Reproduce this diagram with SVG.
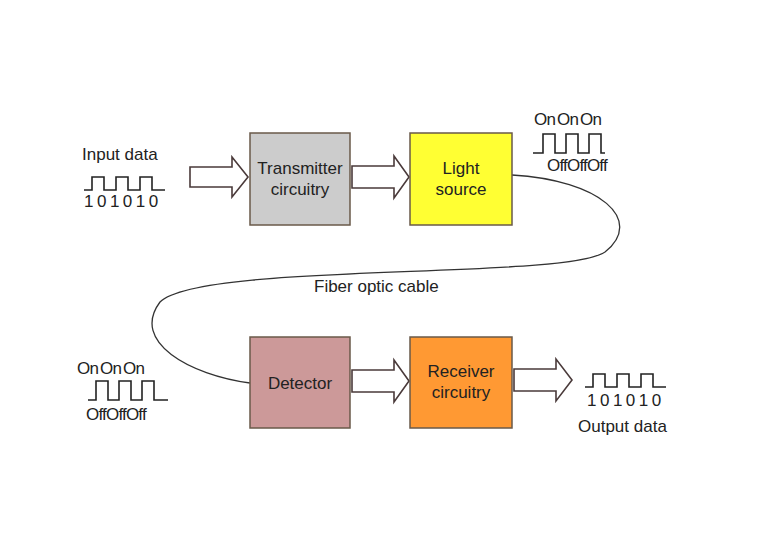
<svg xmlns="http://www.w3.org/2000/svg" width="768" height="543" viewBox="0 0 768 543">
<style>
text{font-family:"Liberation Sans",Arial,sans-serif;font-size:17px;fill:#222}
.box{stroke:#6a5a4a;stroke-width:1.5}
.arr{fill:#fff;stroke:#4a3a3a;stroke-width:1.6}
.w{fill:none;stroke:#222;stroke-width:1.6}
.c{text-anchor:middle}
.s{letter-spacing:-0.8px;word-spacing:-2px}
</style>
<rect width="768" height="543" fill="#fff"/>
<g id="connectors">
<path d="M512,175 C600,180 645,220 605,252 C565,280 200,262 160,302 C130,342 190,375 250,383" fill="none" stroke="#333" stroke-width="1.3"/>
<path class="arr" d="M190,167 H232 V157 L248,177 L232,197 V187 H190 Z"/>
<path class="arr" d="M352,166 H394 V156 L409,177 L394,198 V188 H352 Z"/>
<path class="arr" d="M352,370 H394 V360 L409,381 L394,402 V392 H352 Z"/>
<path class="arr" d="M514,369 H556 V359 L572,380 L556,401 V391 H514 Z"/>
</g>
<g id="transmitter"><rect class="box" x="250" y="133" width="100" height="92" fill="#cccccc"/><text class="c" x="300" y="174">Transmitter</text><text class="c" x="300" y="195">circuitry</text></g>
<g id="light"><rect class="box" x="410" y="133" width="102" height="92" fill="#ffff33"/><text class="c" x="461" y="174">Light</text><text class="c" x="461" y="195">source</text></g>
<g id="detector"><rect class="box" x="250" y="337" width="100" height="91" fill="#cc9999"/><text class="c" x="300" y="389">Detector</text></g>
<g id="receiver"><rect class="box" x="410" y="337" width="102" height="91" fill="#ff9933"/><text class="c" x="461" y="377">Receiver</text><text class="c" x="461" y="398">circuitry</text></g>
<g id="labels">
<text x="82" y="160">Input data</text>
<path class="w" d="M84,190 H92 V177 H104 V190 H116 V177 H128 V190 H140 V177 H152 V190 H165"/>
<text x="84" y="207" letter-spacing="3.5">101010</text>
<text class="s" x="534" y="125">On On On</text>
<path class="w" d="M533,153 H543 V134 H555 V153 H566 V134 H578 V153 H589 V134 H601 V153 H605"/>
<text x="547" y="171" letter-spacing="-0.8">OffOffOff</text>
<text x="314" y="292">Fiber optic cable</text>
<text class="s" x="77" y="374">On On On</text>
<path class="w" d="M88,400 H96 V381 H108 V400 H119 V381 H131 V400 H142 V381 H154 V400 H168"/>
<text x="86" y="420" letter-spacing="-0.8">OffOffOff</text>
<path class="w" d="M585,387 H593 V374 H605 V387 H617 V374 H629 V387 H641 V374 H653 V387 H666"/>
<text x="587" y="406" letter-spacing="3.5">101010</text>
<text x="578" y="432">Output data</text>
</g>
</svg>
